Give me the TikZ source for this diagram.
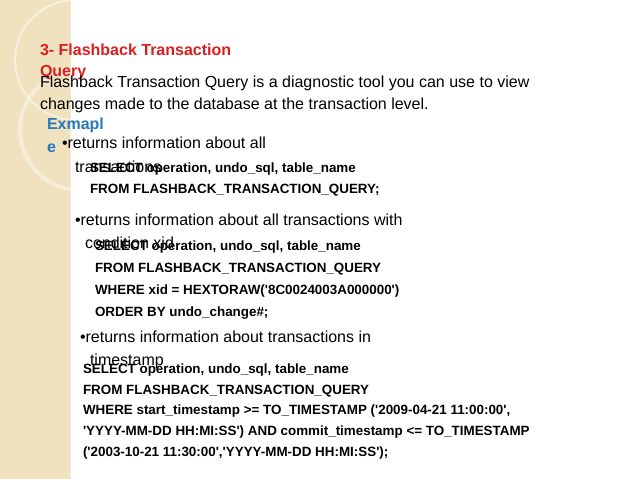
\documentclass[tikz,border=0pt]{standalone}
\usepackage{fontspec}
\setmainfont{Liberation Sans}[Ligatures=TeXOff]
\definecolor{titlered}{RGB}{220,30,30}
\definecolor{exblue}{RGB}{40,120,190}
\definecolor{panel}{RGB}{240,226,190}
\tikzset{%
    body/.style={inner sep=0pt,outer sep=0pt,anchor=base west,font=\fontsize{16}{16}\selectfont},
    title/.style={body,font=\fontsize{16}{16}\selectfont\bfseries,text=titlered},
    example/.style={body,font=\fontsize{16}{16}\selectfont\bfseries,text=exblue},
    code/.style={body,font=\fontsize{13.4}{13.4}\selectfont\bfseries},
}
\begin{document}
\begin{tikzpicture}[x=1pt,y=-1pt]
        \useasboundingbox (0,0) rectangle (638,479);
        \fill[white] (0,0) rectangle (638,479);
        \fill[panel] (0,0) rectangle (70,479);
        \draw[panel!80!black,opacity=0.3] (70,0) -- (70,479);
        \draw[white,opacity=0.5,line width=2pt] (75,60) circle (60);
        \draw[white,opacity=0.4,line width=4pt] (80,130) circle (60);

        \node[title] (t1) at (40,55) {3- Flashback Transaction};
        \node[title] (t2) at (40,76) {Query};
        \node[body] (p1) at (40,87) {Flashback Transaction Query is a diagnostic tool you can use to view};
        \node[body] (p2) at (40,109) {changes made to the database at the transaction level.};
        \node[example] (e1) at (47,129) {Exmapl};
        \node[example] (e2) at (47,152) {e};

        \node[body] (b1) at (62,148) {\textbullet returns information about all};
        \node[body] (b1b) at (75,172) {transactions};
        \node[code] (s1) at (90,172) {SELECT operation, undo\_sql, table\_name};
        \node[code] (s2) at (90,193) {FROM FLASHBACK\_TRANSACTION\_QUERY;};

        \node[body] (b2) at (75,225) {\textbullet returns information about all transactions with};
        \node[body] (b2b) at (85,248) {condition xid};
        \node[code] (s3) at (95,250) {SELECT operation, undo\_sql, table\_name};
        \node[code] (s4) at (95,272) {FROM FLASHBACK\_TRANSACTION\_QUERY};
        \node[code] (s5) at (95,294) {WHERE xid = HEXTORAW('8C0024003A000000')};
        \node[code] (s6) at (95,316) {ORDER BY undo\_change\#;};

        \node[body] (b3) at (80,342) {\textbullet returns information about transactions in};
        \node[body] (b3b) at (90,365) {timestamp};
        \node[code] (s7) at (83,373) {SELECT operation, undo\_sql, table\_name};
        \node[code] (s8) at (83,394) {FROM FLASHBACK\_TRANSACTION\_QUERY};
        \node[code] (s9) at (83,414) {WHERE start\_timestamp >= TO\_TIMESTAMP ('2009-04-21 11:00:00',};
        \node[code] (s10) at (83,435) {'YYYY-MM-DD HH:MI:SS') AND commit\_timestamp <= TO\_TIMESTAMP};
        \node[code] (s11) at (83,456) {('2003-10-21 11:30:00','YYYY-MM-DD HH:MI:SS');};
\end{tikzpicture}
\end{document}
